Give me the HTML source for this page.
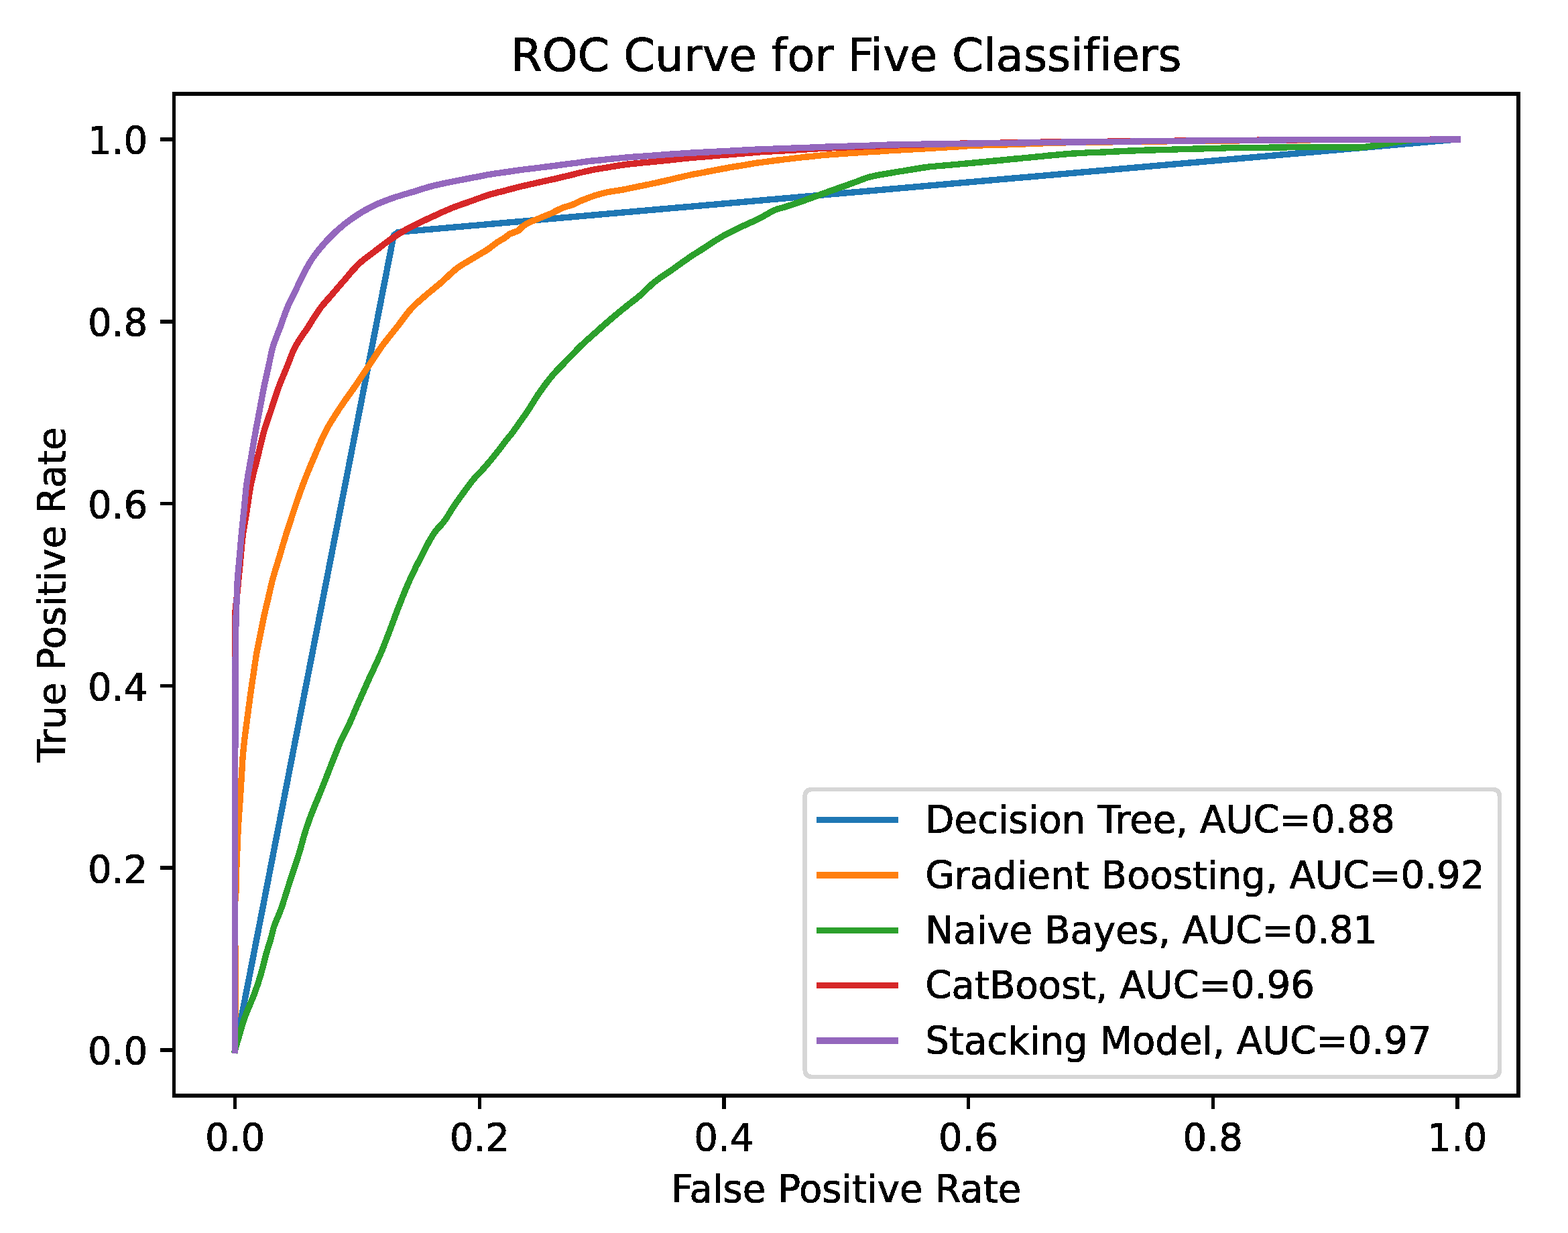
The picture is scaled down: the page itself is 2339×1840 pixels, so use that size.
<!DOCTYPE html>
<html lang="en"><head><meta charset="utf-8"><title>ROC Curve for Five Classifiers</title>
<style>html,body{margin:0;padding:0;background:#fff}body{width:2339px;height:1840px;overflow:hidden}svg{display:block}text{font-family:'DejaVu Sans', 'Liberation Sans', sans-serif;fill:#000;font-variant-ligatures:none;font-feature-settings:"liga" 0,"clig" 0}</style>
</head><body>
<svg width="2339" height="1840" viewBox="0 0 2339 1840">
<defs>
<filter id="bl" filterUnits="userSpaceOnUse" x="0" y="0" width="2339" height="1840" color-interpolation-filters="sRGB"><feComponentTransfer><feFuncA type="discrete" tableValues="0 1 1 1 1 1 1 1 1 1 1 1 1 1 1 1 1 1 1 1 1 1 1 1 1 1 1 1 1 1 1 1 "/></feComponentTransfer></filter>
<filter id="bt" filterUnits="userSpaceOnUse" x="0" y="0" width="2339" height="1840" color-interpolation-filters="sRGB"><feComponentTransfer><feFuncA type="discrete" tableValues="0 1 1 1 1 1 1 1 1 1 1 1 1 1 1 1 1 1 1 1 1 1 1 1 1 1 1 1 1 1 1 1 "/></feComponentTransfer></filter>
<filter id="br" filterUnits="userSpaceOnUse" x="0" y="0" width="2339" height="1840" color-interpolation-filters="sRGB"><feComponentTransfer><feFuncA type="discrete" tableValues="0 1 1 1 1 1 1 1 1 1 1 1 1 1 1 1 1 1 1 1 1 1 1 1 1 1 1 1 1 1 1 1 "/></feComponentTransfer></filter>
<clipPath id="ax"><rect x="259.5" y="140" width="2005.59" height="1494.99"/></clipPath>
</defs>
<rect width="2339" height="1840" fill="#fff"/>
<g fill="none" stroke-width="8.42" stroke-linecap="square" stroke-linejoin="round" clip-path="url(#ax)">
<path filter="url(#bl)" stroke="#1f77b4" d="M350.6 1567 L587.3 351.1 L594 346.4 L2174 208"/>
<path filter="url(#bl)" stroke="#ff7f0e" d="M350.6 1567 C350.6 1553.33 350.31 1539.66 350.6 1526 C350.7 1521.33 350.91 1516.67 351 1512 C351.2 1501.78 351 1491.56 351 1481.33 C351 1471.11 351 1460.89 351 1450.67 C351 1440.44 351.15 1430.22 351 1420 C350.95 1416.67 350.85 1413.33 350.8 1410 C350.63 1399.17 350.8 1388.33 350.8 1377.5 C350.8 1366.67 349.94 1355.8 350.8 1345 C351.01 1342.33 351.38 1339.67 351.6 1337 C352.22 1329.36 352.03 1321.67 352.25 1314 C352.47 1306.33 352.63 1298.67 352.9 1291 C353.22 1281.76 353.7 1272.53 354.1 1263.3 C354.5 1254.07 354.79 1244.83 355.3 1235.6 C355.81 1226.33 356.53 1217.07 357.15 1207.8 C357.77 1198.53 358.4 1189.27 359 1180 C359.6 1170.83 360.17 1161.67 360.75 1152.5 C361.33 1143.33 361.72 1134.15 362.5 1125 C363.59 1112.16 365.29 1099.38 366.9 1086.6 C368.06 1077.37 369.37 1068.17 370.6 1058.95 C371.83 1049.73 372.99 1040.51 374.3 1031.3 C375.61 1022.07 377.07 1012.87 378.45 1003.65 C379.83 994.43 381 985.18 382.6 976 C384.21 966.73 386.27 957.53 388.1 948.3 C389.93 939.07 391.61 929.8 393.6 920.6 C395.6 911.35 397.9 902.17 400.05 892.95 C402.2 883.73 404.1 874.45 406.5 865.3 C409.39 854.31 413 843.53 416.25 832.65 C419.5 821.77 422.6 810.84 426 800 C428.36 792.48 430.87 785 433.3 777.5 C435.73 770 438.08 762.47 440.6 755 C444.38 743.77 448.3 732.58 452.5 721.5 C457.8 707.52 463.59 693.73 469.5 680 C474.84 667.58 479.8 654.96 486.1 643 C492.47 630.9 499.98 619.42 507.5 608 C514.45 597.45 522.16 587.42 529.3 577 C535.98 567.24 542.43 557.33 549 547.5 C555.57 537.67 561.77 527.58 568.7 518 C576.02 507.87 584.13 498.33 591.85 488.5 C599.57 478.67 606.37 468.04 615 459 C621.52 452.17 628.88 446.2 636 440 C643.86 433.16 652.17 426.86 660 420 C666.94 413.92 673.11 406.96 680.4 401.3 C689.55 394.19 700.05 389 709.9 382.9 C716.59 378.75 723.61 375.09 730 370.5 C733.15 368.24 736.04 365.64 739.2 363.4 C743.63 360.25 748.55 357.82 753 354.7 C755.52 352.94 757.76 350.77 760.4 349.2 C764.38 346.83 769.51 346.67 773.3 344 C775.71 342.3 777.37 339.71 779.7 337.9 C781.47 336.53 783.38 335.36 785.3 334.2 C791.05 330.73 797.52 328.63 803.7 326 C809.79 323.4 816.04 321.18 822.1 318.5 C828.32 315.75 834.08 311.94 840.5 309.7 C843.55 308.64 846.74 308.03 849.8 307 C856.14 304.87 862.01 301.52 868.2 299 C874.28 296.53 880.36 294.02 886.6 292 C892.65 290.04 898.8 288.39 905 287 C913.24 285.15 921.7 284.44 930 282.9 C938.37 281.34 946.67 279.43 955 277.7 C963.33 275.97 971.69 274.32 980 272.5 C988.35 270.67 996.67 268.67 1005 266.75 C1013.33 264.83 1021.63 262.76 1030 261 C1038.3 259.26 1046.67 257.83 1055 256.25 C1063.33 254.67 1071.65 253 1080 251.5 C1088.32 250 1096.67 248.67 1105 247.25 C1113.33 245.83 1121.64 244.24 1130 243 C1138.31 241.76 1146.67 240.87 1155 239.8 C1163.33 238.73 1171.65 237.57 1180 236.6 C1188.32 235.63 1196.67 234.87 1205 234 C1213.33 233.13 1221.65 232.13 1230 231.4 C1238.32 230.67 1246.67 230.2 1255 229.6 C1263.33 229 1271.66 228.37 1280 227.8 C1288.33 227.23 1296.67 226.73 1305 226.2 C1313.33 225.67 1321.67 225.11 1330 224.6 C1343.89 223.74 1357.78 223 1371.67 222.2 C1385.56 221.4 1399.44 220.6 1413.33 219.8 C1427.22 219 1441.1 218.04 1455 217.4 C1468.88 216.76 1482.78 216.42 1496.67 215.93 C1510.56 215.44 1524.44 214.96 1538.33 214.47 C1552.22 213.98 1566.11 213.34 1580 213 C1593.58 212.67 1607.17 212.63 1620.75 212.45 C1634.33 212.27 1647.92 212.08 1661.5 211.9 C1675.08 211.72 1688.67 211.53 1702.25 211.35 C1715.83 211.17 1729.42 210.96 1743 210.8 C1757.5 210.63 1772 210.53 1786.5 210.4 C1801 210.27 1815.5 210.13 1830 210 C1844.17 209.87 1858.33 209.75 1872.5 209.62 C1886.67 209.5 1900.83 209.38 1915 209.25 C1929.17 209.12 1943.33 209 1957.5 208.88 C1971.67 208.75 1985.83 208.58 2000 208.5 C2014.5 208.41 2029 208.42 2043.5 208.38 C2058 208.33 2072.5 208.29 2087 208.25 C2101.5 208.21 2116 208.17 2130.5 208.12 C2145 208.08 2159.5 208.04 2174 208"/>
<path filter="url(#bl)" stroke="#2ca02c" d="M350.6 1567 C352.03 1562 353.46 1557 354.9 1552 C356.2 1547.5 357.47 1542.99 358.8 1538.5 C360.64 1532.31 362.36 1526.09 364.5 1520 C366.19 1515.21 368.08 1510.5 370 1505.8 C371.89 1501.17 374.02 1496.64 375.9 1492 C377.75 1487.43 379.52 1482.83 381.2 1478.2 C382.85 1473.63 384.41 1469.03 385.9 1464.4 C388.11 1457.52 390.1 1450.57 392 1443.6 C393.87 1436.73 395.28 1429.75 397.2 1422.9 C399.15 1415.94 401.61 1409.14 403.6 1402.2 C405.57 1395.34 406.83 1388.27 409.1 1381.5 C411.49 1374.39 415.07 1367.73 417.7 1360.7 C420.26 1353.88 422.47 1346.94 424.7 1340 C426.29 1335.05 427.73 1330.06 429.3 1325.1 C432.22 1315.86 435.4 1306.71 438.4 1297.5 C441.4 1288.28 444.51 1279.09 447.3 1269.8 C450.04 1260.65 452.14 1251.31 455 1242.2 C457.93 1232.87 461.23 1223.65 464.7 1214.5 C468.23 1205.2 472.26 1196.11 476 1186.9 C479.73 1177.71 483.46 1168.53 487.1 1159.3 C490.73 1150.09 494.13 1140.79 497.8 1131.6 C501.43 1122.52 504.88 1113.36 509 1104.5 C512.06 1097.93 515.67 1091.63 518.8 1085.1 C524.6 1073.01 529.4 1060.47 534.8 1048.2 C540.23 1035.87 545.73 1023.57 551.3 1011.3 C556.9 998.97 563.01 986.87 568.3 974.4 C573.46 962.25 577.97 949.83 582.7 937.5 C587.41 925.23 591.75 912.81 596.6 900.6 C601.51 888.24 606.5 875.9 612 863.8 C617.68 851.32 623.73 838.99 630.2 826.9 C636.73 814.71 642.24 801.7 651 791 C653.83 787.55 657.15 784.53 660 781.1 C667.01 772.67 671.96 762.72 678.2 753.7 C684.72 744.27 691.43 734.98 698.3 725.8 C700.68 722.62 703 719.39 705.5 716.3 C710.66 709.92 716.77 704.36 722.2 698.2 C730.11 689.23 737.72 679.99 745 670.5 C747.33 667.46 749.58 664.35 751.9 661.3 C756.63 655.09 761.74 649.17 766.4 642.9 C770.9 636.85 775.07 630.57 779.4 624.4 C781.53 621.37 783.7 618.36 785.8 615.3 C792.03 606.23 797.33 596.54 803.6 587.5 C810.14 578.07 816.88 568.75 824.3 560 C831.59 551.4 839.78 543.61 847.6 535.5 C854.33 528.53 860.91 521.41 867.9 514.7 C874.95 507.93 882.39 501.59 889.7 495.1 C896.53 489.03 903.35 482.94 910.3 477 C917.45 470.9 924.72 464.94 932 459 C939.78 452.66 947.93 446.78 955.5 440.2 C962.21 434.37 968.14 427.66 975 422 C983.18 415.25 992.3 409.73 1000.95 403.6 C1009.6 397.47 1018.11 391.13 1026.9 385.2 C1034.19 380.28 1041.67 375.63 1049.05 370.85 C1056.43 366.07 1063.65 361.01 1071.2 356.5 C1083.11 349.4 1095.58 343.27 1108.1 337.3 C1115.33 333.85 1122.77 330.85 1130 327.4 C1140.28 322.5 1149.54 315.24 1160.4 311.8 C1162.51 311.13 1164.67 310.62 1166.8 310 C1173.62 308.02 1180.36 305.75 1187.1 303.5 C1198.85 299.58 1210.44 295.18 1222.1 291 C1232.56 287.25 1243 283.47 1253.45 279.7 C1263.9 275.93 1274.44 272.39 1284.8 268.4 C1286.94 267.58 1289.05 266.68 1291.2 265.9 C1303.62 261.4 1317 260.23 1330 257.9 C1338.64 256.35 1347.33 255.1 1356 253.7 C1364.67 252.3 1373.3 250.65 1382 249.5 C1394.11 247.9 1406.33 247.27 1418.5 246.15 C1430.67 245.03 1442.84 243.94 1455 242.8 C1468.89 241.49 1482.78 240.11 1496.67 238.77 C1510.56 237.42 1524.44 236.08 1538.33 234.73 C1552.22 233.39 1566.09 231.84 1580 230.7 C1591.39 229.76 1602.79 228.95 1614.2 228.3 C1624.44 227.72 1634.69 227.39 1644.93 226.93 C1655.18 226.48 1665.42 226.02 1675.67 225.57 C1685.91 225.11 1696.15 224.58 1706.4 224.2 C1720.13 223.69 1733.87 223.47 1747.6 223.1 C1761.33 222.73 1775.07 222.37 1788.8 222 C1802.53 221.63 1816.26 221.15 1830 220.9 C1840.22 220.71 1850.44 220.66 1860.67 220.53 C1870.89 220.41 1881.11 220.29 1891.33 220.17 C1901.56 220.04 1911.78 219.87 1922 219.8 C1934.3 219.71 1946.6 219.78 1958.9 219.77 C1971.2 219.76 1983.5 219.74 1995.8 219.73 C2008.1 219.72 2020.43 220.61 2032.7 219.7 C2045.09 218.78 2057.27 216.03 2069.55 214.2 C2081.83 212.37 2094.02 209.64 2106.4 208.7 C2117.63 207.85 2128.93 208.47 2140.2 208.35 C2151.47 208.23 2162.73 208.12 2174 208"/>
<path filter="url(#bl)" stroke="#d62728" d="M350.5 1567 C350.5 1552.56 350.51 1538.11 350.51 1523.67 C350.52 1509.22 350.52 1494.78 350.53 1480.33 C350.53 1465.89 350.54 1451.44 350.54 1437 C350.54 1422.56 350.55 1408.11 350.55 1393.67 C350.56 1379.22 350.56 1364.78 350.57 1350.33 C350.57 1335.89 350.58 1321.44 350.58 1307 C350.58 1292.56 350.59 1278.11 350.59 1263.67 C350.6 1249.22 350.6 1234.78 350.61 1220.33 C350.61 1205.89 350.62 1191.44 350.62 1177 C350.62 1162.56 350.63 1148.11 350.63 1133.67 C350.64 1119.22 350.64 1104.78 350.65 1090.33 C350.65 1075.89 350.66 1061.44 350.66 1047 C350.66 1032.56 350.67 1018.11 350.67 1003.67 C350.68 989.22 350.68 974.78 350.69 960.33 C350.69 945.89 349.89 931.42 350.7 917 C351.32 905.9 352.91 894.87 354 883.8 C355.38 869.83 356.73 855.87 358.1 841.9 C359.47 827.93 360.4 813.92 362.2 800 C363.9 786.86 366.37 773.83 368.45 760.75 C370.53 747.67 372.08 734.49 374.7 721.5 C377.37 708.29 381.13 695.33 384.35 682.25 C387.57 669.17 390.22 655.93 394 643 C397.25 631.87 401.33 621 405 610 C408.67 599 411.96 587.87 416 577 C419.7 567.04 424.03 557.33 428.05 547.5 C432.07 537.67 435.22 527.43 440.1 518 C445.49 507.58 452.9 498.33 459.3 488.5 C465.7 478.67 471.39 468.33 478.5 459 C484.1 451.66 490.53 445 496.55 438 C502.57 431 508.57 423.99 514.6 417 C519.49 411.33 524.12 405.41 529.3 400 C532.02 397.16 534.8 394.36 537.7 391.7 C544.14 385.79 551.48 380.94 558.4 375.6 C564.98 370.51 571.43 365.24 578.2 360.4 C586.4 354.53 594.77 348.85 603.5 343.8 C610.24 339.9 617.21 336.43 624.2 333 C629.42 330.44 634.72 328.03 640 325.6 C652.16 320 664.23 314.16 676.7 309.3 C685.48 305.88 694.47 303.03 703.35 299.9 C712.23 296.77 720.99 293.24 730 290.5 C738.24 288 746.67 286.17 755 284 C763.33 281.83 771.63 279.52 780 277.5 C788.3 275.49 796.67 273.77 805 271.9 C813.33 270.03 821.68 268.23 830 266.3 C838.35 264.36 846.67 262.3 855 260.3 C863.33 258.3 871.6 256 880 254.3 C888.28 252.62 896.67 251.53 905 250.15 C913.33 248.77 921.64 247.18 930 246 C942.44 244.25 955 243.4 967.5 242.1 C980 240.8 992.5 239.5 1005 238.2 C1013.33 237.33 1021.66 236.4 1030 235.6 C1041.1 234.54 1052.22 233.73 1063.33 232.8 C1074.44 231.87 1085.56 230.93 1096.67 230 C1107.78 229.07 1118.88 228 1130 227.2 C1141.1 226.4 1152.22 225.87 1163.33 225.2 C1174.44 224.53 1185.56 223.87 1196.67 223.2 C1207.78 222.53 1218.88 221.76 1230 221.2 C1241.11 220.64 1252.22 220.29 1263.33 219.83 C1274.44 219.38 1285.56 218.92 1296.67 218.47 C1307.78 218.01 1318.89 217.48 1330 217.1 C1341.11 216.72 1352.22 216.48 1363.33 216.17 C1374.44 215.86 1385.56 215.54 1396.67 215.23 C1407.78 214.92 1418.89 214.56 1430 214.3 C1443.33 213.99 1456.67 213.83 1470 213.6 C1483.33 213.37 1496.67 213.13 1510 212.9 C1523.33 212.67 1536.67 212.39 1550 212.2 C1563.33 212.01 1576.67 211.92 1590 211.79 C1603.33 211.65 1616.67 211.51 1630 211.37 C1643.33 211.23 1656.67 211.1 1670 210.96 C1683.33 210.82 1696.67 210.68 1710 210.54 C1723.33 210.4 1736.67 210.27 1750 210.13 C1763.33 209.99 1776.67 209.85 1790 209.71 C1803.33 209.58 1816.67 209.4 1830 209.3 C1844.33 209.2 1858.67 209.19 1873 209.14 C1887.33 209.08 1901.67 209.03 1916 208.98 C1930.33 208.92 1944.67 208.87 1959 208.81 C1973.33 208.76 1987.67 208.7 2002 208.65 C2016.33 208.6 2030.67 208.54 2045 208.49 C2059.33 208.43 2073.67 208.38 2088 208.32 C2102.33 208.27 2116.67 208.22 2131 208.16 C2145.33 208.11 2159.67 208.05 2174 208"/>
<path filter="url(#bl)" stroke="#9467bd" d="M350.6 1567 C350.61 1552.27 350.61 1537.53 350.62 1522.8 C350.63 1508.07 350.63 1493.33 350.64 1478.6 C350.65 1463.87 350.65 1449.13 350.66 1434.4 C350.67 1419.67 350.67 1404.93 350.68 1390.2 C350.69 1375.47 350.69 1360.73 350.7 1346 C350.71 1331.27 350.71 1316.53 350.72 1301.8 C350.73 1287.07 350.73 1272.33 350.74 1257.6 C350.75 1242.87 350.75 1228.13 350.76 1213.4 C350.77 1198.67 350.77 1183.93 350.78 1169.2 C350.79 1154.47 350.78 1139.73 350.8 1125 C350.82 1112.58 350.87 1100.17 350.9 1087.75 C350.93 1075.33 350.97 1062.92 351 1050.5 C351.03 1038.08 351.07 1025.67 351.1 1013.25 C351.13 1000.83 351.07 988.42 351.2 976 C351.3 966.77 351.5 957.53 351.65 948.3 C351.8 939.07 351.84 929.83 352.1 920.6 C352.36 911.38 352.83 902.17 353.2 892.95 C353.57 883.73 353.73 874.51 354.3 865.3 C354.97 854.4 356.2 843.53 357.15 832.65 C358.1 821.77 358.98 810.88 360 800 C361.23 786.91 362.67 773.83 364 760.75 C365.33 747.67 366.23 734.53 368 721.5 C369.79 708.35 372.47 695.33 374.7 682.25 C376.93 669.17 379.04 656.06 381.4 643 C383.39 631.98 385.57 621 387.65 610 C389.73 599 391.64 587.96 393.9 577 C395.94 567.14 398.27 557.33 400.45 547.5 C402.63 537.67 404.18 527.67 407 518 C409.94 507.94 414.23 498.33 417.85 488.5 C421.47 478.67 424.56 468.62 428.7 459 C431.77 451.87 435.4 445 438.75 438 C442.1 431 445.37 423.96 448.8 417 C451.61 411.31 454.32 405.56 457.4 400 C459.9 395.49 462.47 391.01 465.3 386.7 C469.87 379.75 475.1 373.23 480.5 366.9 C486.57 359.77 493.06 352.99 499.9 346.6 C506.75 340.2 513.95 334.16 521.5 328.6 C531.81 321 542.75 314.15 554.2 308.4 C564.86 303.04 576.13 298.92 587.4 295 C596.06 291.99 604.93 289.63 613.7 286.95 C622.47 284.27 631.15 281.31 640 278.9 C653.18 275.31 666.62 272.74 680 270 C688.32 268.3 696.67 266.77 705 265.15 C713.33 263.53 721.63 261.7 730 260.3 C738.3 258.91 746.67 257.93 755 256.75 C763.33 255.57 771.66 254.31 780 253.2 C788.32 252.09 796.67 251.13 805 250.1 C813.33 249.07 821.67 248.07 830 247 C838.34 245.93 846.67 244.8 855 243.7 C863.33 242.6 871.65 241.37 880 240.4 C888.32 239.44 896.67 238.73 905 237.9 C913.33 237.07 921.66 236.15 930 235.4 C942.48 234.28 955 233.53 967.5 232.6 C980 231.67 992.49 230.65 1005 229.8 C1013.33 229.23 1021.66 228.69 1030 228.2 C1041.11 227.55 1052.22 227.04 1063.33 226.47 C1074.44 225.89 1085.56 225.31 1096.67 224.73 C1107.78 224.16 1118.88 223.49 1130 223 C1141.11 222.51 1152.22 222.18 1163.33 221.77 C1174.44 221.36 1185.56 220.94 1196.67 220.53 C1207.78 220.12 1218.89 219.69 1230 219.3 C1241.11 218.91 1252.22 218.57 1263.33 218.2 C1274.44 217.83 1285.56 217.47 1296.67 217.1 C1307.78 216.73 1318.89 216.28 1330 216 C1343.89 215.65 1357.78 215.56 1371.67 215.33 C1385.56 215.11 1399.44 214.89 1413.33 214.67 C1427.22 214.44 1441.11 214.21 1455 214 C1468.89 213.79 1482.78 213.62 1496.67 213.43 C1510.56 213.24 1524.44 213.06 1538.33 212.87 C1552.22 212.68 1566.11 212.47 1580 212.3 C1593.89 212.13 1607.78 211.99 1621.67 211.83 C1635.56 211.68 1649.44 211.52 1663.33 211.37 C1677.22 211.21 1691.11 211.06 1705 210.9 C1718.89 210.74 1732.78 210.59 1746.67 210.43 C1760.56 210.28 1774.44 210.12 1788.33 209.97 C1802.22 209.81 1816.11 209.64 1830 209.5 C1840.22 209.4 1850.44 209.32 1860.67 209.23 C1870.89 209.14 1881.11 209.06 1891.33 208.97 C1901.56 208.88 1911.78 208.76 1922 208.7 C1936 208.61 1950 208.62 1964 208.58 C1978 208.54 1992 208.51 2006 208.47 C2020 208.43 2034 208.39 2048 208.35 C2062 208.31 2076 208.27 2090 208.23 C2104 208.19 2118 208.16 2132 208.12 C2146 208.08 2160 208.04 2174 208"/>
</g>
<g fill="#000" shape-rendering="crispEdges">
<rect x="257" y="137" width="5" height="1501"/>
<rect x="2262" y="137" width="6" height="1501"/>
<rect x="257" y="137" width="2011" height="6"/>
<rect x="257" y="1632" width="2011" height="6"/>
<rect x="348" y="1635" width="5" height="20"/>
<rect x="713" y="1635" width="5" height="20"/>
<rect x="1077" y="1635" width="6" height="20"/>
<rect x="1442" y="1635" width="5" height="20"/>
<rect x="1807" y="1635" width="5" height="20"/>
<rect x="2171" y="1635" width="6" height="20"/>
<rect x="239" y="1564" width="21" height="6"/>
<rect x="239" y="1292" width="21" height="6"/>
<rect x="239" y="1021" width="21" height="5"/>
<rect x="239" y="749" width="21" height="5"/>
<rect x="239" y="477" width="21" height="6"/>
<rect x="239" y="205" width="21" height="6"/>
</g>
<g filter="url(#bt)" font-size="56.17">
<text x="350.66" y="1718" text-anchor="middle">0.0</text>
<text x="715.31" y="1718" text-anchor="middle">0.2</text>
<text x="1079.97" y="1718" text-anchor="middle">0.4</text>
<text x="1444.62" y="1718" text-anchor="middle">0.6</text>
<text x="1809.27" y="1718" text-anchor="middle">0.8</text>
<text x="2173.92" y="1718" text-anchor="middle">1.0</text>
<text x="220.19" y="1589.38" text-anchor="end">0.0</text>
<text x="220.19" y="1317.56" text-anchor="end">0.2</text>
<text x="220.19" y="1045.75" text-anchor="end">0.4</text>
<text x="220.19" y="773.93" text-anchor="end">0.6</text>
<text x="220.19" y="502.11" text-anchor="end">0.8</text>
<text x="220.19" y="230.3" text-anchor="end">1.0</text>
<text x="1262.29" y="1793.85" text-anchor="middle">False Positive Rate</text>
<text x="1262.29" y="106.29" text-anchor="middle" font-size="67.4">ROC Curve for Five Classifiers</text>
</g>
<g filter="url(#br)" font-size="56.17"><text transform="translate(96.73 887.5) rotate(-90)" text-anchor="middle">True Positive Rate</text></g>
<path d="M1211.87 1607.01 L2225.77 1607.01 Q2237.01 1607.01 2237.01 1595.78 L2237.01 1189.09 Q2237.01 1177.86 2225.77 1177.86 L1211.87 1177.86 Q1200.63 1177.86 1200.63 1189.09 L1200.63 1595.78 Q1200.63 1607.01 1211.87 1607.01 Z" fill="#fff"/>
<path filter="url(#bl)" d="M1211.87 1607.01 L2225.77 1607.01 Q2237.01 1607.01 2237.01 1595.78 L2237.01 1189.09 Q2237.01 1177.86 2225.77 1177.86 L1211.87 1177.86 Q1200.63 1177.86 1200.63 1189.09 L1200.63 1595.78 Q1200.63 1607.01 1211.87 1607.01 Z" fill="none" stroke="#d6d6d6" stroke-width="5.62" stroke-linejoin="miter"/>
<g shape-rendering="crispEdges">
<rect x="1218" y="1219" width="122" height="9" fill="#1f77b4"/>
<rect x="1218" y="1301" width="122" height="10" fill="#ff7f0e"/>
<rect x="1218" y="1384" width="122" height="9" fill="#2ca02c"/>
<rect x="1218" y="1466" width="122" height="9" fill="#d62728"/>
<rect x="1218" y="1548" width="122" height="10" fill="#9467bd"/>
</g>
<g filter="url(#bt)" font-size="56.17">
<text x="1380.35" y="1243.11">Decision Tree, AUC=0.88</text>
<text x="1380.35" y="1325.57">Gradient Boosting, AUC=0.92</text>
<text x="1380.35" y="1408.03">Naive Bayes, AUC=0.81</text>
<text x="1380.35" y="1490.49">CatBoost, AUC=0.96</text>
<text x="1380.35" y="1572.95">Stacking Model, AUC=0.97</text>
</g>
</svg></body></html>
